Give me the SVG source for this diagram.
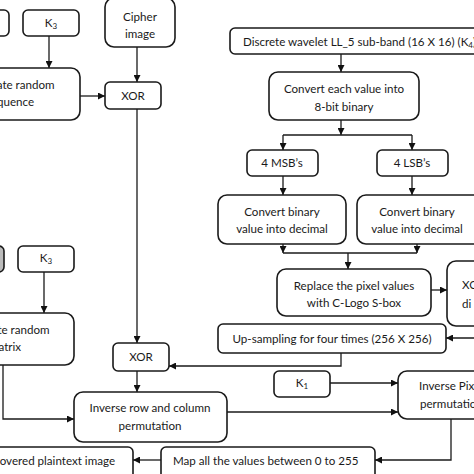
<svg xmlns="http://www.w3.org/2000/svg" width="474" height="474" viewBox="0 0 474 474">
<defs>
<marker id="ah" viewBox="0 0 10 10" refX="10" refY="5" markerWidth="8" markerHeight="7" markerUnits="userSpaceOnUse" orient="auto">
<path d="M0,0 L10,5 L0,10 z" fill="#111"/>
</marker>
<style>
.b{fill:#fff;stroke:#1a1a1a;stroke-width:1.6}
.t{font-family:Lato,"Liberation Sans",sans-serif;font-size:11.6px;fill:#1a1a1a;text-anchor:middle}
.s{text-anchor:start}
.e{text-anchor:end}
.c{fill:none;stroke:#1a1a1a;stroke-width:1.3;marker-end:url(#ah)}
.l{fill:none;stroke:#1a1a1a;stroke-width:1.3}
.sub{font-size:8px}
</style>
</defs>
<rect width="474" height="474" fill="#fff"/>
<g id="connectors">
<path class="c" d="M49,36 V68"/>
<path class="c" d="M80,96 H105"/>
<path class="c" d="M137,47 V82"/>
<path class="c" d="M137,109 V343"/>
<path class="c" d="M341,54 V72"/>
<path class="c" d="M341,120 V135"/>
<path class="l" d="M283,135 H412"/>
<path class="c" d="M283,135 V150"/>
<path class="c" d="M412,135 V150"/>
<path class="c" d="M283,176 V195"/>
<path class="c" d="M412,176 V195"/>
<path class="c" d="M283,244 V253"/>
<path class="c" d="M417,244 V253"/>
<path class="l" d="M283,253 H417"/>
<path class="c" d="M348,253 V269"/>
<path class="c" d="M431,290 H447"/>
<path class="c" d="M480,338 H446"/>
<path class="c" d="M341,353 V366 H169"/>
<path class="c" d="M44,272 V313"/>
<path class="c" d="M3,365 V419 H74"/>
<path class="c" d="M137,371 V392"/>
<path class="c" d="M227,412 H398"/>
<path class="c" d="M330,383 H398"/>
<path class="c" d="M451,419 V460 H375"/>
<path class="c" d="M161,460 H133"/>
</g>
<g id="n_left_top"><rect class="b" x="-20" y="10" width="29" height="26" rx="5"/></g>
<g id="n_k3_top"><rect class="b" x="23" y="10" width="56" height="26" rx="5"/><text class="t" x="51" y="27">K<tspan class="sub" dy="2">3</tspan></text></g>
<g id="n_gen_seq"><rect class="b" x="-60" y="68" width="140" height="52" rx="9"/><text class="t" x="10" y="89">Generate random</text><text class="t" x="10" y="106">sequence</text></g>
<g id="n_cipher"><rect class="b" x="105" y="-2" width="70" height="49" rx="9"/><text class="t" x="140" y="21">Cipher</text><text class="t" x="140" y="38">image</text></g>
<g id="n_xor1"><rect class="b" x="105" y="82" width="56" height="27" rx="5"/><text class="t" x="133" y="100">XOR</text></g>
<g id="n_dwt"><rect class="b" x="230" y="28" width="260" height="26" rx="5"/><text class="t s" x="243" y="46">Discrete wavelet LL_5 sub-band  (16 X 16) (K<tspan class="sub" dy="2">4</tspan><tspan dy="-2">)</tspan></text></g>
<g id="n_conv8"><rect class="b" x="269" y="72" width="150" height="48" rx="9"/><text class="t" x="344" y="93">Convert each value into</text><text class="t" x="344" y="111">8-bit binary</text></g>
<g id="n_msb"><rect class="b" x="247" y="150" width="71" height="26" rx="5"/><text class="t" x="282" y="167">4 MSB’s</text></g>
<g id="n_lsb"><rect class="b" x="377" y="150" width="71" height="26" rx="5"/><text class="t" x="412" y="167">4 LSB’s</text></g>
<g id="n_convL"><rect class="b" x="218" y="195" width="128" height="49" rx="9"/><text class="t" x="282" y="216">Convert binary</text><text class="t" x="282" y="233">value into decimal</text></g>
<g id="n_convR"><rect class="b" x="357" y="195" width="130" height="49" rx="9"/><text class="t" x="417" y="216">Convert binary</text><text class="t" x="417" y="233">value into decimal</text></g>
<g id="n_replace"><rect class="b" x="277" y="269" width="154" height="47" rx="9"/><text class="t" x="354" y="290">Replace the pixel values</text><text class="t" x="354" y="307">with C-Logo S-box</text></g>
<g id="n_xordi"><rect class="b" x="447" y="261" width="60" height="65" rx="9"/><text class="t s" x="462" y="289">XO</text><text class="t s" x="462" y="308">di</text></g>
<g id="n_up"><rect class="b" x="218" y="324" width="228" height="29" rx="5"/><text class="t" x="332" y="343">Up-sampling for four times (256 X 256)</text></g>
<g id="n_left_mid"><rect class="b" x="-20" y="246" width="24" height="26" rx="5" style="fill:#bbb"/></g>
<g id="n_k3_mid"><rect class="b" x="18" y="246" width="56" height="26" rx="5"/><text class="t" x="46" y="262">K<tspan class="sub" dy="2">3</tspan></text></g>
<g id="n_gen_mat"><rect class="b" x="-60" y="313" width="134" height="52" rx="9"/><text class="t" x="5" y="334">Generate random</text><text class="t" x="5" y="351">matrix</text></g>
<g id="n_xor2"><rect class="b" x="113" y="343" width="56" height="28" rx="5"/><text class="t" x="141" y="361">XOR</text></g>
<g id="n_invrow"><rect class="b" x="74" y="392" width="153" height="50" rx="9"/><text class="t" x="150" y="412">Inverse row and column</text><text class="t" x="150" y="430">permutation</text></g>
<g id="n_k1"><rect class="b" x="274" y="371" width="56" height="26" rx="5"/><text class="t" x="302" y="387">K<tspan class="sub" dy="2">1</tspan></text></g>
<g id="n_invpix"><rect class="b" x="398" y="371" width="110" height="48" rx="9"/><text class="t s" x="419" y="390">Inverse Pixel</text><text class="t s" x="420" y="408">permutation</text></g>
<g id="n_map"><rect class="b" x="161" y="447" width="214" height="40" rx="5"/><text class="t s" x="173" y="465">Map all the values between 0 to 255</text></g>
<g id="n_recovered"><rect class="b" x="-40" y="447" width="173" height="40" rx="5"/><text class="t e" x="115" y="465">Recovered plaintext image</text></g>
</svg>
